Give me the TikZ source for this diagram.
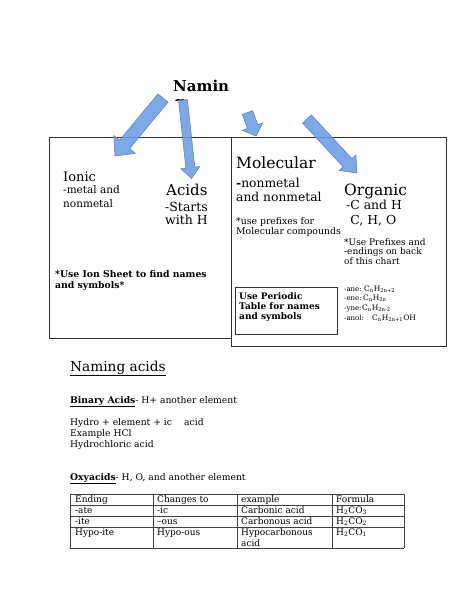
\documentclass[tikz,border=0pt]{standalone}
\usepackage{fontspec}
\setmainfont{DejaVu Serif}
\usetikzlibrary{calc}

\definecolor{arrowblue}{RGB}{108,158,228}
\definecolor{arrowedge}{RGB}{80,125,198}

% block arrow: tail, tip, half shaft, half head, head length
\newcommand{\blockarrow}[5]{%
  \coordinate (hb) at ($(#2)!#5!(#1)$);
  \filldraw[bigarrow] ($(#1)!#3!90:(#2)$) -- ($(hb)!#3!-90:(#1)$) -- ($(hb)!#4!-90:(#1)$)
    -- (#2) -- ($(hb)!#4!90:(#1)$) -- ($(hb)!#3!90:(#1)$) -- ($(#1)!#3!-90:(#2)$) -- cycle;
}

\begin{document}
\begin{tikzpicture}[x=1pt, y=-1pt,
    txt/.style={anchor=base west, inner sep=0pt, align=left},
    box/.style={draw=black!80, line width=0.8pt},
    tabline/.style={draw=black!75, line width=0.7pt},
    bigarrow/.style={fill=arrowblue, draw=arrowedge, line width=0.5pt, fill opacity=0.88}]
    \fill[white] (0,0) rectangle (474,613);
    \useasboundingbox (0,0) rectangle (474,613);

    % Title, cut off in the original
    \node[txt, font=\fontsize{15}{17}\selectfont\bfseries] (title) at (173,91) {Namin};
    \begin{scope}
        \clip (170,94.5) rectangle (190,100.5);
        \node[txt, font=\fontsize{15}{17}\selectfont\bfseries] (titleg) at (174,107) {g};
    \end{scope}

    % Left box: ionic and acids (multi-line nodes sit on their last baseline)
    \draw[box] (49,137) rectangle (231,338);
    \node[txt, font=\fontsize{13}{15}\selectfont] (ionic) at (63,181) {Ionic};
    \node[txt, font=\fontsize{10.5}{14}\selectfont] (ionicTxt) at (63,207) {-metal and\\nonmetal};
    \node[txt, font=\fontsize{15}{17}\selectfont] (acids) at (166,195) {Acids};
    \node[txt, font=\fontsize{12.5}{13.5}\selectfont] (acidsTxt) at (165,224.5) {-Starts\\with H};
    \node[txt, font=\fontsize{9.3}{11}\selectfont\bfseries] (ionNote) at (55,288)
        {*Use Ion Sheet to find names\\and symbols*};

    % Right box: molecular and organic
    \draw[box] (231,137) rectangle (446,346);
    \node[txt, font=\fontsize{15.5}{17}\selectfont] (molec) at (236,168) {Molecular};
    \node[txt, font=\fontsize{12.3}{14}\selectfont] (molecTxt) at (236,201)
        {\textbf{-}nonmetal\\and nonmetal};
    \node[txt, font=\fontsize{9.3}{10.5}\selectfont] (molecNote) at (236,234.5)
        {*use prefixes for\\Molecular compounds};
    \draw[box] (235,287) rectangle (337,334);
    \node[txt, font=\fontsize{9}{10}\selectfont\bfseries] (periodic) at (239,319)
        {Use Periodic\\Table for names\\and symbols};

    \node[txt, font=\fontsize{15.5}{17}\selectfont] (organic) at (344,195) {Organic};
    \node[txt, font=\fontsize{12.4}{15}\selectfont] (organicTxt) at (346,224)
        {-C and H\\\phantom{-}C, H, O};
    \node[txt, font=\fontsize{9}{9.7}\selectfont] (organicNote) at (344,264.4)
        {*Use Prefixes and\\-endings on back\\of this chart};
    \foreach \n/\lbl/\yy/\fx/\frm in {ane/-ane:/291/364/{C\textsubscript{n}H\textsubscript{2n+2}},
        ene/-ene:/300/363/{C\textsubscript{n}H\textsubscript{2n}},
        yne/-yne:/310/362/{C\textsubscript{n}H\textsubscript{2n-2}},
        anol/-anol:/320/372/{C\textsubscript{n}H\textsubscript{2n+1}OH}} {
        \node[txt, font=\fontsize{7}{8}\selectfont] (\n) at (344,\yy) {\lbl};
        \node[txt, font=\fontsize{7.5}{8}\selectfont] (\n F) at (\fx,\yy) {\frm};
    }

    % Arrows from the title
    \coordinate (ionicFrom) at (163,98);    \coordinate (ionicTo) at (115,156);
    \coordinate (acidsFrom) at (183,100);   \coordinate (acidsTo) at (191.5,178.5);
    \coordinate (molecFrom) at (247.5,112.5); \coordinate (molecTo) at (256,136);
    \coordinate (orgFrom) at (307,119);     \coordinate (orgTo) at (357,173);
    \blockarrow{ionicFrom}{ionicTo}{6.5pt}{14pt}{15pt}
    \blockarrow{acidsFrom}{acidsTo}{4.5pt}{9.5pt}{11pt}
    \blockarrow{molecFrom}{molecTo}{5.5pt}{11pt}{10pt}
    \blockarrow{orgFrom}{orgTo}{6pt}{11.5pt}{14pt}

    % Naming acids
    \node[txt, font=\fontsize{13.7}{15}\selectfont] (namingAcids) at (70,371) {\underline{Naming acids}};
    \node[txt, font=\fontsize{9.2}{11}\selectfont] (binary) at (70,403)
        {\underline{\textbf{Binary Acids}}- H+ another element};
    \node[txt, font=\fontsize{9.2}{11.2}\selectfont] (hydro) at (70,447.4)
        {Hydro + element + ic\quad\ acid\\Example HCl\\Hydrochloric acid};
    \node[txt, font=\fontsize{9.2}{11}\selectfont] (oxy) at (70,480)
        {\underline{\textbf{Oxyacids}}- H, O, and another element};

    % Table
    \foreach \yy in {494,505,516,527,548} \draw[tabline] (70,\yy) -- (404,\yy);
    \foreach \xx in {70,153,237,332,404} \draw[tabline] (\xx,494) -- (\xx,548);
    \foreach \r/\yy/\ey/\ea/\eb/\ec/\ed in {0/502.5/502.5/Ending/Changes to/example/Formula,
        1/513.5/513.5/-ate/-ic/Carbonic acid/{H\textsubscript{2}CO\textsubscript{3}},
        2/524.5/524.5/-ite/--ous/Carbonous acid/{H\textsubscript{2}CO\textsubscript{2}},
        3/535.5/546/Hypo-ite/Hypo-ous/{Hypocarbonous\\acid}/{H\textsubscript{2}CO\textsubscript{1}}} {
        \node[txt, font=\fontsize{9}{10.5}\selectfont] (end\r) at (75,\yy) {\ea};
        \node[txt, font=\fontsize{9}{10.5}\selectfont] (chg\r) at (157,\yy) {\eb};
        \node[txt, font=\fontsize{9}{10.5}\selectfont] (ex\r) at (241,\ey) {\ec};
        \node[txt, font=\fontsize{9}{10.5}\selectfont] (frm\r) at (336,\yy) {\ed};
    }
\end{tikzpicture}
\end{document}
